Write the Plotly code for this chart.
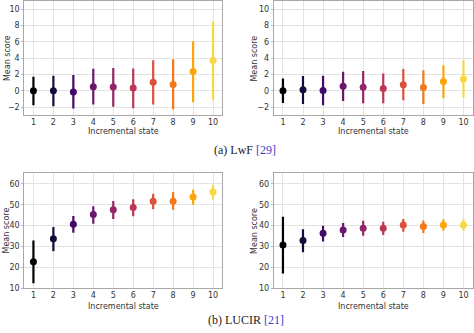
import plotly.graph_objects as go

# ---------------- data ----------------
states = [1, 2, 3, 4, 5, 6, 7, 8, 9, 10]

lwf_a_mean = [0.0, 0.0, -0.16, 0.48, 0.45, 0.33, 1.05, 0.76, 2.37, 3.70]
lwf_a_low = [-1.77, -1.89, -2.17, -1.69, -1.96, -2.13, -1.69, -2.29, -1.41, -1.17]
lwf_a_high = [1.72, 1.85, 1.93, 2.70, 2.80, 2.73, 3.73, 3.85, 6.06, 8.52]

lwf_b_mean = [0.0, 0.12, 0.04, 0.56, 0.44, 0.28, 0.73, 0.40, 1.13, 1.45]
lwf_b_low = [-1.49, -1.61, -1.77, -1.25, -1.53, -1.53, -1.17, -1.61, -0.93, -0.81]
lwf_b_high = [1.49, 1.81, 1.85, 2.34, 2.42, 2.10, 2.66, 2.50, 3.14, 3.71]

lucir_a_mean = [22.7, 33.7, 40.7, 45.3, 47.6, 48.7, 51.7, 51.7, 53.7, 56.1]
lucir_a_low = [12.4, 27.7, 36.6, 40.9, 43.2, 44.5, 47.8, 47.6, 50.0, 52.5]
lucir_a_high = [32.9, 39.3, 44.6, 49.3, 51.8, 52.6, 55.3, 56.1, 57.2, 59.5]

lucir_b_mean = [30.7, 32.9, 36.3, 37.9, 38.7, 38.7, 40.3, 39.6, 40.3, 40.3]
lucir_b_low = [17.1, 27.2, 32.4, 34.6, 35.2, 35.5, 37.1, 36.5, 37.5, 37.5]
lucir_b_high = [44.2, 38.2, 39.9, 41.3, 42.3, 41.8, 43.2, 42.5, 43.1, 43.1]

lwf_yticks = [-2, 0, 2, 4, 6, 8, 10]
lwf_yticktext = ["\u22122", "0", "2", "4", "6", "8", "10"]
lucir_yticks = [10, 20, 30, 40, 50, 60]

x_title = "Incremental state"
y_title = "Mean score"
caption_a = '(a) LwF <span style="color:#3a3ad0">[29]</span>'
caption_b = '(b) LUCIR <span style="color:#3a3ad0">[21]</span>'

# ---------------- style ----------------
palette = ["#000004", "#160b39", "#420a68", "#6a176e", "#932667",
           "#bc3754", "#dd513a", "#f37819", "#fca50a", "#f6d746"]

W, H = 474, 333


def px_x(p):
    return p / W


def px_y(p):
    return 1 - p / H


fig = go.Figure()

panels = [
    (lwf_a_mean, lwf_a_low, lwf_a_high, "x", "y"),
    (lwf_b_mean, lwf_b_low, lwf_b_high, "x2", "y2"),
    (lucir_a_mean, lucir_a_low, lucir_a_high, "x3", "y3"),
    (lucir_b_mean, lucir_b_low, lucir_b_high, "x4", "y4"),
]

for mean, low, high, xa, ya in panels:
    for i in range(len(states)):
        c = palette[i]
        fig.add_trace(go.Scatter(
            x=[states[i]], y=[mean[i]], mode="markers",
            marker=dict(color=c, size=7, line=dict(width=0)),
            error_y=dict(type="data", symmetric=False,
                         array=[high[i] - mean[i]],
                         arrayminus=[mean[i] - low[i]],
                         color=c, thickness=2.2, width=0),
            xaxis=xa, yaxis=ya, showlegend=False, hoverinfo="skip"))

axis_common = dict(showgrid=True, gridcolor="#e3e3e3", gridwidth=1,
                   showline=True, linecolor="#a8a8a8", linewidth=1.3, mirror=True,
                   zeroline=False, ticks="outside", ticklen=2, tickcolor="#bbbbbb",
                   tickfont=dict(family="DejaVu Sans", size=8, color="#333333"))

xdom_left = [px_x(24.5), px_x(222.5)]
xdom_right = [px_x(274.5), px_x(473.5)]
ydom_top = [px_y(117), px_y(1)]
ydom_bot = [px_y(292.7), px_y(176)]

xcommon = dict(axis_common, range=[0.55, 10.45], tickvals=states, ticks="",
               ticklabelstandoff=-1)

fig.update_layout(
    width=W, height=H, margin=dict(l=0, r=0, t=0, b=0),
    paper_bgcolor="white", plot_bgcolor="white",
    xaxis=dict(xcommon, domain=xdom_left, anchor="y"),
    yaxis=dict(axis_common, domain=ydom_top, anchor="x", range=[-3, 11],
               tickvals=lwf_yticks, ticktext=lwf_yticktext),
    xaxis2=dict(xcommon, domain=xdom_right, anchor="y2"),
    yaxis2=dict(axis_common, domain=ydom_top, anchor="x2", range=[-3, 11],
                tickvals=lwf_yticks, ticktext=lwf_yticktext),
    xaxis3=dict(xcommon, domain=xdom_left, anchor="y3"),
    yaxis3=dict(axis_common, domain=ydom_bot, anchor="x3", range=[10, 65],
                tickvals=lucir_yticks),
    xaxis4=dict(xcommon, domain=xdom_right, anchor="y4"),
    yaxis4=dict(axis_common, domain=ydom_bot, anchor="x4", range=[10, 65],
                tickvals=lucir_yticks),
)

title_font = dict(family="DejaVu Sans", size=8, color="#333333")
annotations = []
for xc, yc in [((24.5 + 222.5) / 2, 133), ((274.5 + 473.5) / 2, 133),
               ((24.5 + 222.5) / 2, 311), ((274.5 + 473.5) / 2, 311)]:
    annotations.append(dict(text=x_title, x=px_x(xc), y=px_y(yc), xref="paper", yref="paper",
                            showarrow=False, font=title_font, xanchor="center", yanchor="middle"))
for xc, yc in [(7, 59), (255, 59), (7, 234), (255, 234)]:
    annotations.append(dict(text=y_title, x=px_x(xc), y=px_y(yc), xref="paper", yref="paper",
                            showarrow=False, font=title_font, textangle=-90,
                            xanchor="center", yanchor="middle"))
cap_font = dict(family="Liberation Serif", size=12, color="#222222")
annotations.append(dict(text=caption_a, x=px_x(246), y=px_y(152), xref="paper", yref="paper",
                        showarrow=False, font=cap_font, xanchor="center", yanchor="middle"))
annotations.append(dict(text=caption_b, x=px_x(247), y=px_y(325), xref="paper", yref="paper",
                        showarrow=False, font=cap_font, xanchor="center", yanchor="middle"))
fig.update_layout(annotations=annotations)

fig.write_html("out.html")
